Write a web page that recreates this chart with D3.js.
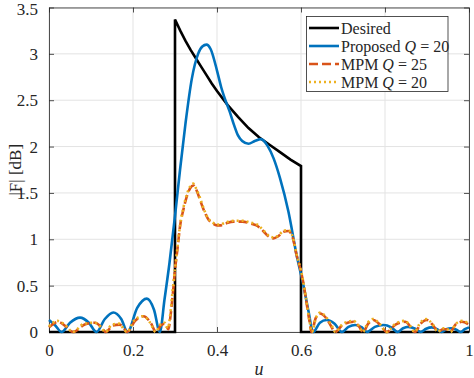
<!DOCTYPE html>
<html>
<head>
<meta charset="utf-8">
<script src="https://cdn.jsdelivr.net/npm/d3@7/dist/d3.min.js"></script>
<style>
  html, body { margin: 0; padding: 0; background: #fff; }
  svg { display: block; }
  text { font-family: "Liberation Serif", "Times New Roman", serif; fill: #262626; }
</style>
</head>
<body>
<svg id="chart" width="474" height="378"></svg>
<script>
// ---- data ----
const xTicks = [0, 0.2, 0.4, 0.6, 0.8, 1];
const yTicks = [0, 0.5, 1, 1.5, 2, 2.5, 3, 3.5];
const xTickLabels = ["0", "0.2", "0.4", "0.6", "0.8", "1"];
const yTickLabels = ["0", "0.5", "1", "1.5", "2", "2.5", "3", "3.5"];

const desiredU = [0, 0.3, 0.3, 0.3125, 0.325, 0.3375, 0.35, 0.3625, 0.375, 0.3875, 0.4, 0.425, 0.45, 0.475, 0.5, 0.525, 0.55, 0.575, 0.6, 0.6, 1];
const desiredV = [0, 0, 3.37, 3.25, 3.14, 3.04, 2.95, 2.86, 2.77, 2.68, 2.6, 2.45, 2.32, 2.2, 2.1, 2.02, 1.94, 1.86, 1.79, 0, 0];

const proposedU = [0, 0.015, 0.03, 0.05, 0.074, 0.095, 0.113, 0.133, 0.153, 0.172, 0.187, 0.21, 0.233, 0.25, 0.264,
  0.275, 0.287, 0.3, 0.312, 0.325, 0.34, 0.355, 0.365, 0.375, 0.385, 0.4, 0.41, 0.42, 0.43, 0.44, 0.45, 0.46, 0.475, 0.49, 0.505, 0.52, 0.535, 0.55, 0.57, 0.59, 0.606, 0.618, 0.629,
  0.645, 0.661, 0.68, 0.697, 0.713, 0.729, 0.745, 0.757, 0.776, 0.796, 0.815, 0.83, 0.843, 0.855, 0.872, 0.885, 0.898, 0.911, 0.924, 0.935, 0.946, 0.957, 0.97, 0.98, 0.99, 1];
const proposedV = [0.13, 0.07, 0, 0.1, 0.155, 0.1, 0, 0.14, 0.21, 0.14, 0, 0.26, 0.36, 0.24, 0,
  0.35, 0.75, 1.25, 1.75, 2.25, 2.73, 3.0, 3.08, 3.1, 3.05, 2.82, 2.64, 2.5, 2.38, 2.24, 2.12, 2.06, 2.03, 2.06, 2.08, 2.01, 1.87, 1.66, 1.3, 0.82, 0.5, 0.22, 0,
  0.1, 0.13, 0.09, 0, 0.055, 0.075, 0.05, 0, 0.055, 0.075, 0.05, 0, 0.04, 0.055, 0.035, 0, 0.035, 0.05, 0.03, 0, 0.03, 0.04, 0.025, 0, 0.03, 0.05];

const mpm25U = [0, 0.022, 0.04, 0.057, 0.085, 0.11, 0.125, 0.135, 0.152, 0.168, 0.178, 0.186, 0.205, 0.225, 0.242, 0.255, 0.266, 0.276, 0.284,
  0.29, 0.295, 0.3, 0.306, 0.312, 0.32, 0.328, 0.336, 0.344, 0.352, 0.36, 0.37, 0.38, 0.39, 0.4, 0.407, 0.42, 0.44, 0.46, 0.48, 0.494, 0.51, 0.523, 0.534, 0.545, 0.558, 0.57, 0.58, 0.59, 0.6, 0.606, 0.612, 0.62, 0.625,
  0.635, 0.645, 0.66, 0.672, 0.681, 0.7, 0.725, 0.738, 0.748, 0.76, 0.772, 0.79, 0.804, 0.825, 0.848, 0.862, 0.871, 0.885, 0.899, 0.915, 0.927, 0.937, 0.946, 0.955, 0.968, 0.983, 1];
const mpm25V = [0.05, 0.11, 0.06, 0, 0.08, 0.1, 0.05, 0, 0.07, 0.08, 0.04, 0, 0.12, 0.17, 0.1, 0, 0.07, 0.09, 0.03,
  0.2, 0.42, 0.67, 0.9, 1.14, 1.32, 1.46, 1.55, 1.58, 1.52, 1.42, 1.3, 1.21, 1.17, 1.15, 1.15, 1.17, 1.19, 1.19, 1.17, 1.15, 1.09, 1.03, 1.01, 1.03, 1.08, 1.09, 1.02, 0.82, 0.65, 0.52, 0.35, 0.12, 0,
  0.15, 0.2, 0.15, 0.06, 0, 0.08, 0.11, 0.06, 0, 0.09, 0.13, 0.07, 0, 0.08, 0.11, 0.05, 0, 0.09, 0.13, 0.07, 0, 0.03, 0.03, 0, 0.08, 0.11, 0.08];

const mpm20U = [0, 0.02, 0.04, 0.056, 0.084, 0.108, 0.124, 0.134, 0.15, 0.167, 0.177, 0.185, 0.204, 0.224, 0.241, 0.254, 0.265, 0.275, 0.283,
  0.289, 0.294, 0.3, 0.306, 0.312, 0.32, 0.328, 0.336, 0.343, 0.351, 0.36, 0.37, 0.38, 0.39, 0.4, 0.408, 0.42, 0.44, 0.46, 0.48, 0.495, 0.51, 0.523, 0.535, 0.546, 0.558, 0.569, 0.58, 0.59, 0.6, 0.606, 0.612, 0.62, 0.626,
  0.636, 0.646, 0.66, 0.673, 0.682, 0.7, 0.724, 0.737, 0.747, 0.759, 0.771, 0.789, 0.803, 0.825, 0.847, 0.861, 0.87, 0.884, 0.898, 0.914, 0.926, 0.936, 0.946, 0.956, 0.969, 0.984, 1];
const mpm20V = [0.06, 0.12, 0.07, 0, 0.09, 0.1, 0.05, 0, 0.08, 0.09, 0.04, 0, 0.13, 0.17, 0.1, 0, 0.08, 0.1, 0.04,
  0.2, 0.43, 0.68, 0.92, 1.15, 1.34, 1.48, 1.57, 1.6, 1.54, 1.44, 1.31, 1.22, 1.18, 1.16, 1.16, 1.18, 1.2, 1.2, 1.18, 1.16, 1.1, 1.04, 1.02, 1.04, 1.09, 1.1, 1.03, 0.83, 0.66, 0.53, 0.36, 0.13, 0,
  0.16, 0.21, 0.16, 0.07, 0, 0.09, 0.12, 0.07, 0, 0.1, 0.14, 0.08, 0, 0.09, 0.12, 0.06, 0, 0.1, 0.14, 0.08, 0, 0.04, 0.04, 0, 0.09, 0.12, 0.09];

const seriesNames = ["Desired", "Proposed", "MPM", "MPM"];
const seriesQ = [null, "20", "25", "20"];

// ---- layout ----
const margin = { left: 49, top: 7.5, right: 5, bottom: 46 };
const W = 474, H = 378;
const iw = W - margin.left - margin.right; // 420
const ih = H - margin.top - margin.bottom; // 324.5

const svg = d3.select("#chart");
const g = svg.append("g").attr("transform", `translate(${margin.left},${margin.top})`);

const x = d3.scaleLinear().domain([0, 1]).range([0, iw]);
const y = d3.scaleLinear().domain([0, 3.5]).range([ih, 0]);

// grid
g.append("g").selectAll("line.gx").data(xTicks).join("line")
  .attr("x1", d => x(d)).attr("x2", d => x(d)).attr("y1", 0).attr("y2", ih)
  .attr("stroke", "#e3e3e3").attr("stroke-width", 1);
g.append("g").selectAll("line.gy").data(yTicks).join("line")
  .attr("x1", 0).attr("x2", iw).attr("y1", d => y(d)).attr("y2", d => y(d))
  .attr("stroke", "#e3e3e3").attr("stroke-width", 1);

// axes (MATLAB style inward ticks)
const tl = 5;
const axB = g.append("g").attr("transform", `translate(0,${ih})`)
  .call(d3.axisBottom(x).tickValues(xTicks).tickFormat((d, i) => xTickLabels[i]).tickSizeInner(-tl).tickSizeOuter(0).tickPadding(12));
const axT = g.append("g")
  .call(d3.axisTop(x).tickValues(xTicks).tickFormat("").tickSizeInner(-tl).tickSizeOuter(0));
const axL = g.append("g")
  .call(d3.axisLeft(y).tickValues(yTicks).tickFormat((d, i) => yTickLabels[i]).tickSizeInner(-tl).tickSizeOuter(0).tickPadding(11));
const axR = g.append("g").attr("transform", `translate(${iw},0)`)
  .call(d3.axisRight(y).tickValues(yTicks).tickFormat("").tickSizeInner(-tl).tickSizeOuter(0));
[axB, axT, axL, axR].forEach(a => {
  a.select(".domain").attr("stroke", "#262626").attr("stroke-width", 0.8);
  a.selectAll(".tick line").attr("stroke", "#262626").attr("stroke-width", 0.8);
  a.selectAll(".tick text").attr("font-size", 17).attr("font-family", "Liberation Serif, serif").attr("fill", "#262626");
});
// keep the topmost y label inside the picture
axL.selectAll(".tick text").filter(d => d === 3.5).attr("dy", "0.42em");

// lines
const mk = (us, vs) => us.map((u, i) => [u, vs[i]]);
const lineLin = d3.line().x(d => x(d[0])).y(d => y(d[1]));
const lineSmooth = d3.line().x(d => x(d[0])).y(d => y(d[1])).curve(d3.curveMonotoneX);

g.append("path").datum(mk(desiredU, desiredV)).attr("d", lineLin)
  .attr("fill", "none").attr("stroke", "#000").attr("stroke-width", 2.6).attr("stroke-linejoin", "miter");
g.append("path").datum(mk(proposedU, proposedV)).attr("d", lineSmooth)
  .attr("fill", "none").attr("stroke", "#0072BD").attr("stroke-width", 2.6);
g.append("path").datum(mk(mpm25U, mpm25V)).attr("d", lineSmooth)
  .attr("fill", "none").attr("stroke", "#D95319").attr("stroke-width", 2.6).attr("stroke-dasharray", "9,4");
g.append("path").datum(mk(mpm20U, mpm20V)).attr("d", lineSmooth)
  .attr("fill", "none").attr("stroke", "#EDB120").attr("stroke-width", 2.6).attr("stroke-dasharray", "2,3");

// axis labels
svg.append("text").attr("x", margin.left + iw / 2).attr("y", 375)
  .attr("text-anchor", "middle").attr("font-size", 18).attr("font-style", "italic").text("u");
svg.append("text").attr("transform", `translate(21,${margin.top + ih / 2}) rotate(-90)`)
  .attr("text-anchor", "middle").attr("font-size", 17).text("|F| [dB]");

// legend
const lg = svg.append("g");
lg.append("rect").attr("x", 306.5).attr("y", 16.5).attr("width", 141.5).attr("height", 75)
  .attr("fill", "#fff").attr("stroke", "#262626").attr("stroke-width", 0.8);
const legColors = ["#000", "#0072BD", "#D95319", "#EDB120"];
const legDash = [null, null, "9,4", "2,3"];
const legY = [28, 46, 64, 82];
seriesNames.forEach((name, i) => {
  lg.append("line").attr("x1", 309).attr("x2", 339).attr("y1", legY[i]).attr("y2", legY[i])
    .attr("stroke", legColors[i]).attr("stroke-width", 2.6).attr("stroke-dasharray", legDash[i]);
  const t = lg.append("text").attr("x", 341).attr("y", legY[i]).attr("dy", "0.35em").attr("font-size", 16);
  t.append("tspan").text(name);
  if (seriesQ[i]) {
    t.append("tspan").text(" ");
    t.append("tspan").attr("font-style", "italic").text("Q");
    t.append("tspan").text(" = " + seriesQ[i]);
  }
});
</script>
</body>
</html>
